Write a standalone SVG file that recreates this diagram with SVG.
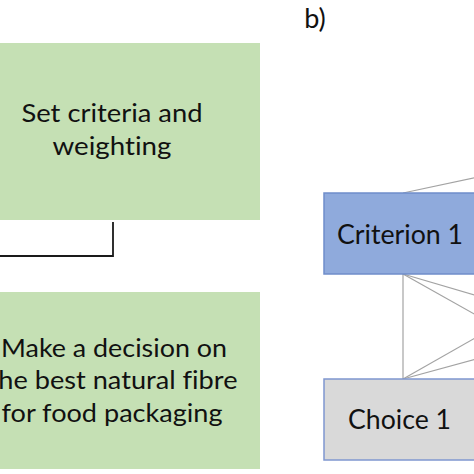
<svg xmlns="http://www.w3.org/2000/svg" width="474" height="474" viewBox="0 0 474 474">
<style>
.t{font-family:Lato,"Open Sans","Liberation Sans",sans-serif;fill:#111;text-anchor:middle;font-variant-ligatures:none}
.g{fill:#c5e0b4}
.thin{stroke:#a3a3a3;stroke-width:1.2;fill:none}
</style>
<rect width="474" height="474" fill="#fff"/>
<g id="connectors">
<polyline points="113,222 113,256 -2,256" fill="none" stroke="#1a1a1a" stroke-width="1.8"/>
<line class="thin" x1="403" y1="193" x2="476" y2="177.5"/>
<line class="thin" x1="403" y1="274" x2="403" y2="379"/>
<line class="thin" x1="403" y1="274" x2="476" y2="295.5"/>
<line class="thin" x1="403" y1="274" x2="476" y2="315"/>
<line class="thin" x1="403" y1="379" x2="476" y2="337.5"/>
<line class="thin" x1="403" y1="379" x2="476" y2="359"/>
</g>
<g id="label-b">
<text class="t" x="315" y="28" font-size="27">b)</text>
</g>
<g id="set-criteria">
<rect class="g" x="-10" y="43" width="270" height="177"/>
<text class="t" x="112" y="122" font-size="25" textLength="181" lengthAdjust="spacingAndGlyphs">Set criteria and</text>
<text class="t" x="112" y="155" font-size="25" textLength="119" lengthAdjust="spacingAndGlyphs">weighting</text>
</g>
<g id="make-decision">
<rect class="g" x="-10" y="292" width="270" height="177"/>
<text class="t" x="114" y="357" font-size="25" textLength="226" lengthAdjust="spacingAndGlyphs">Make a decision on</text>
<text class="t" x="113" y="389" font-size="25" textLength="249" lengthAdjust="spacingAndGlyphs">the best natural fibre</text>
<text class="t" x="112" y="422" font-size="25" textLength="221" lengthAdjust="spacingAndGlyphs">for food packaging</text>
</g>
<g id="criterion-1">
<rect x="324" y="193" width="160" height="81" fill="#8faadc" stroke="#6f8dca" stroke-width="1.5"/>
<text class="t" x="400" y="244" font-size="26" textLength="126" lengthAdjust="spacingAndGlyphs">Criterion 1</text>
</g>
<g id="choice-1">
<rect x="324" y="379" width="160" height="81" fill="#d9d9d9" stroke="#7f97cf" stroke-width="1.5"/>
<text class="t" x="399.5" y="429" font-size="26" textLength="103" lengthAdjust="spacingAndGlyphs">Choice 1</text>
</g>
</svg>
